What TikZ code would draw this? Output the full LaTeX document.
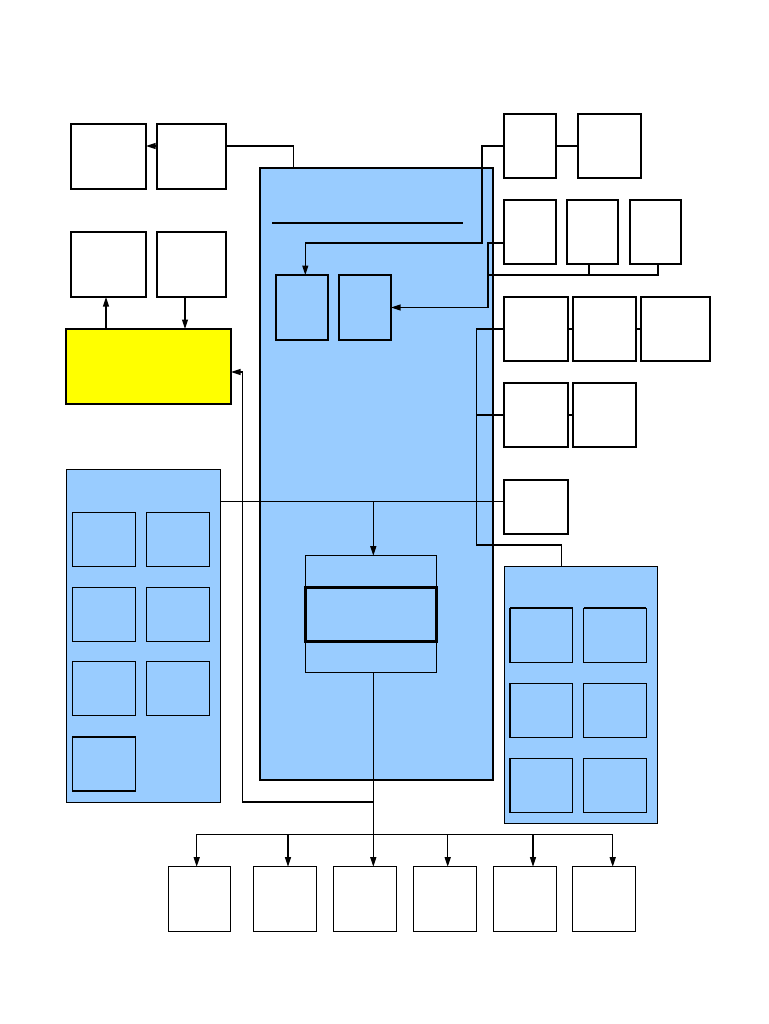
\documentclass[tikz,border=0pt]{standalone}
\usetikzlibrary{arrows.meta}
\definecolor{skyb}{HTML}{99CCFF}
\definecolor{yel}{HTML}{FFFF00}
\begin{document}
\begin{tikzpicture}[x=1pt,y=-1pt,
  box/.style={draw=black, line width=1.1pt, fill=white, rectangle, inner sep=0pt, outer sep=0pt, anchor=north west},
  bbox/.style={box, fill=skyb},
  ln/.style={draw=black, line width=1.1pt},
  arr/.style={ln, -{Triangle[length=9.5pt,width=6pt]}}]
\useasboundingbox (0,0) rectangle (768,1024);
% large panels
\node[bbox, minimum width=233pt, minimum height=612pt] (main) at (260,168) {};
\node[bbox, minimum width=154pt, minimum height=332.6pt] (lpanel) at (66.5,469.7) {};
\node[bbox, minimum width=153.4pt, minimum height=257pt] (rpanel) at (504.3,566.7) {};
% top-left
\node[box, minimum width=75pt, minimum height=65pt] (A) at (71,124) {};
\node[box, minimum width=69pt, minimum height=65pt] (B) at (157,124) {};
\node[box, minimum width=75pt, minimum height=65pt] (C) at (71,232) {};
\node[box, minimum width=69pt, minimum height=65pt] (D) at (157,232) {};
\node[box, fill=yel, minimum width=165pt, minimum height=75pt] (Y) at (66,329) {};
% inside main
\draw[line width=1.8pt] (272,222.7) -- (463,222.7);
\node[bbox, minimum width=52pt, minimum height=65pt] (E) at (276,275) {};
\node[bbox, minimum width=52pt, minimum height=65pt] (F) at (339,275) {};
\node[bbox, minimum width=131pt, minimum height=117pt] (cbox) at (305.3,555.7) {};
\node[bbox, line width=2.5pt, minimum width=131pt, minimum height=54.4pt] (cin) at (305.3,587.3) {};
% right column
\node[box, minimum width=52pt, minimum height=64pt] (G) at (504,114) {};
\node[box, minimum width=63pt, minimum height=64pt] (K) at (578,114) {};
\node[box, minimum width=52pt, minimum height=64pt] (H) at (504,200) {};
\node[box, minimum width=51pt, minimum height=64pt] (I) at (567,200) {};
\node[box, minimum width=51pt, minimum height=64pt] (J) at (630,200) {};
\node[box, minimum width=64pt, minimum height=64pt] (L) at (504,297) {};
\node[box, minimum width=63pt, minimum height=64pt] (M) at (573,297) {};
\node[box, minimum width=69pt, minimum height=64pt] (N) at (641,297) {};
\node[box, minimum width=64pt, minimum height=64pt] (O) at (504,383) {};
\node[box, minimum width=63pt, minimum height=64pt] (P) at (573,383) {};
\node[box, minimum width=64pt, minimum height=54pt] (Q) at (504,480) {};
% left panel boxes
\foreach \r/\yy in {1/512.3,2/587.7,3/661.7,4/737} {
  \node[bbox, minimum width=63pt, minimum height=54pt] (lp\r a) at (72.3,\yy) {};
}
\foreach \r/\yy in {1/512.3,2/587.7,3/661.7} {
  \node[bbox, minimum width=63pt, minimum height=54pt] (lp\r b) at (146.7,\yy) {};
}
% right panel boxes
\foreach \r/\yy in {1/608.3,2/683.3,3/758.7} {
  \node[bbox, minimum width=62.7pt, minimum height=54pt] (rp\r a) at (510,\yy) {};
  \node[bbox, minimum width=62.7pt, minimum height=54pt] (rp\r b) at (583.7,\yy) {};
}
\draw[line width=2.2pt] (rp1a.north west) -- (rp1a.north east);
\draw[line width=2.2pt] (rp1b.north west) -- (rp1b.north east);
% bottom row
\foreach \n/\xx/\w in {1/168.7/62,2/253.7/62.6,3/333.7/62.6,4/413.7/62.6,5/493.3/63,6/572.7/62.6} {
  \node[box, minimum width=\w pt, minimum height=65pt] (bot\n) at (\xx,866.7) {};
}
% coordinates
\coordinate (yAB) at (0,146);
\coordinate (xMT) at (293.5,0);
\coordinate (xC) at (106,0);
\coordinate (xD) at (185,0);
\coordinate (xc) at (373.3,0);
\coordinate (r1) at (373.3,802);
\coordinate (r2) at (242.5,802);
\coordinate (yY) at (0,372);
\coordinate (g1) at (482,146);
\coordinate (g2) at (482,243);
\coordinate (xE) at (305.3,0);
\coordinate (h1) at (488,243);
\coordinate (b1) at (488,275);
\coordinate (xI) at (589,0);
\coordinate (xJ) at (658,0);
\coordinate (v1) at (476.3,329);
\coordinate (v2) at (476.3,545);
\coordinate (xR) at (561.7,0);
\coordinate (yQ) at (0,501.7);
\coordinate (bus) at (373.3,834.3);
\coordinate (busL) at (196.7,834.3);
\coordinate (busR) at (612.7,834.3);
% connectors
\draw[arr] (B.west |- yAB) -- (A.east |- yAB);
\draw[ln] (B.east |- yAB) -| (main.north -| xMT);
\draw[arr] (Y.north -| xC) -- (C.south -| xC);
\draw[arr] (D.south -| xD) -- (Y.north -| xD);
\draw[arr] (r1) -- (r2) |- (Y.east |- yY);
\draw[arr] (G.west) -- (g1) -- (g2) -| (E.north -| xE);
\draw[arr] (H.west |- h1) -- (h1) |- (F.east);
\draw[ln] (b1) -- (b1 -| xJ) -- (J.south -| xJ);
\draw[ln] (b1 -| xI) -- (I.south -| xI);
\draw[ln] (G.east) -- (K.west);
\draw[ln] (L.east) -- (M.west);
\draw[ln] (M.east) -- (N.west);
\draw[ln] (O.east) -- (P.west);
\draw[ln] (L.west) -- (L.west -| v1) -- (v2) -| (rpanel.north -| xR);
\draw[ln] (O.west) -- (O.west -| v1);
\draw[ln] (lpanel.east |- yQ) -- (Q.west |- yQ);
\draw[arr] (xc |- yQ) -- (cbox.north -| xc);
\draw[ln] (cbox.south -| xc) -- (bus);
\draw[ln] (busL) -- (busR);
\foreach \n/\xx in {1/196.7,2/288,3/373.3,4/447.7,5/533,6/612.7} {
  \coordinate (t\n) at (\xx,834.3);
  \draw[arr] (t\n) -- (bot\n.north -| t\n);
}
\end{tikzpicture}
\end{document}
